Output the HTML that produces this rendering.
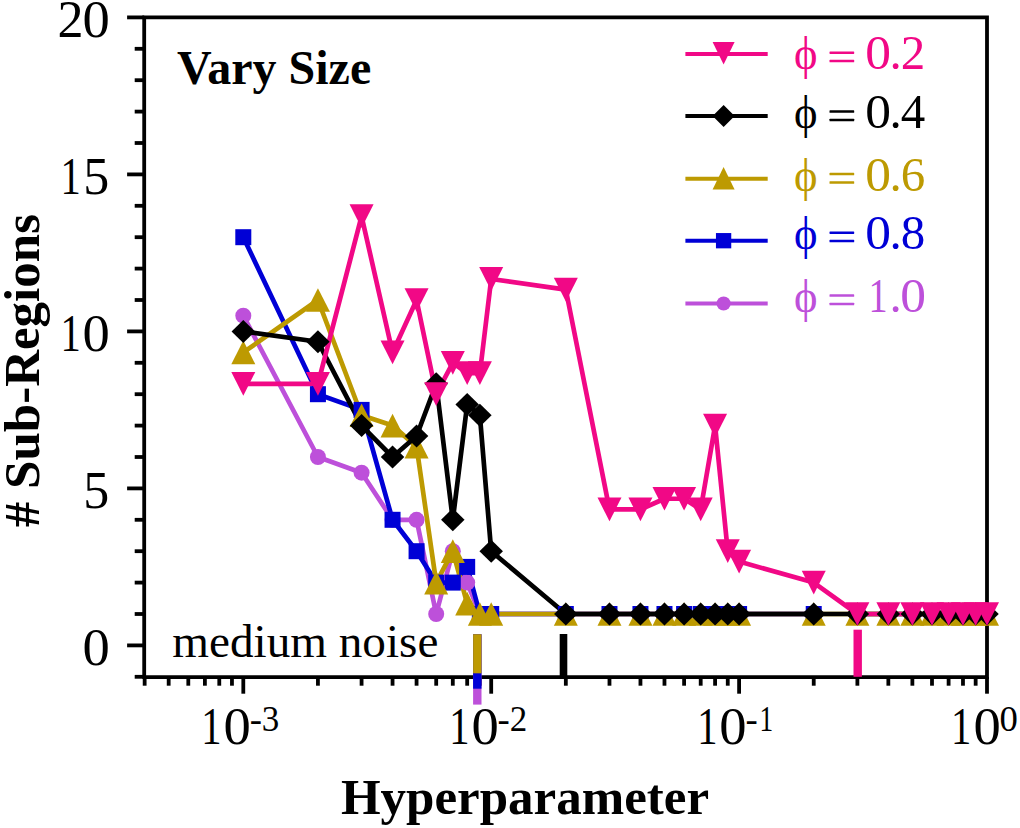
<!DOCTYPE html>
<html><head><meta charset="utf-8"><style>
html,body{margin:0;padding:0;background:#fff;width:1020px;height:828px;overflow:hidden}
svg{display:block}
</style></head><body>
<svg width="1020" height="828" viewBox="0 0 1020 828">
<rect width="1020" height="828" fill="#fff"/>
<path d="M144.20,17.40H987.00V677.10H144.20Z" fill="none" stroke="#000" stroke-width="3.8" stroke-linejoin="miter"/>
<line x1="134.70" y1="676.80" x2="144.20" y2="676.80" stroke="#000" stroke-width="3.8"/>
<line x1="127.10" y1="645.40" x2="144.20" y2="645.40" stroke="#000" stroke-width="3.8"/>
<line x1="134.70" y1="614.00" x2="144.20" y2="614.00" stroke="#000" stroke-width="3.8"/>
<line x1="134.70" y1="582.60" x2="144.20" y2="582.60" stroke="#000" stroke-width="3.8"/>
<line x1="134.70" y1="551.20" x2="144.20" y2="551.20" stroke="#000" stroke-width="3.8"/>
<line x1="134.70" y1="519.80" x2="144.20" y2="519.80" stroke="#000" stroke-width="3.8"/>
<line x1="127.10" y1="488.40" x2="144.20" y2="488.40" stroke="#000" stroke-width="3.8"/>
<line x1="134.70" y1="457.00" x2="144.20" y2="457.00" stroke="#000" stroke-width="3.8"/>
<line x1="134.70" y1="425.60" x2="144.20" y2="425.60" stroke="#000" stroke-width="3.8"/>
<line x1="134.70" y1="394.20" x2="144.20" y2="394.20" stroke="#000" stroke-width="3.8"/>
<line x1="134.70" y1="362.80" x2="144.20" y2="362.80" stroke="#000" stroke-width="3.8"/>
<line x1="127.10" y1="331.40" x2="144.20" y2="331.40" stroke="#000" stroke-width="3.8"/>
<line x1="134.70" y1="300.00" x2="144.20" y2="300.00" stroke="#000" stroke-width="3.8"/>
<line x1="134.70" y1="268.60" x2="144.20" y2="268.60" stroke="#000" stroke-width="3.8"/>
<line x1="134.70" y1="237.20" x2="144.20" y2="237.20" stroke="#000" stroke-width="3.8"/>
<line x1="134.70" y1="205.80" x2="144.20" y2="205.80" stroke="#000" stroke-width="3.8"/>
<line x1="127.10" y1="174.40" x2="144.20" y2="174.40" stroke="#000" stroke-width="3.8"/>
<line x1="134.70" y1="143.00" x2="144.20" y2="143.00" stroke="#000" stroke-width="3.8"/>
<line x1="134.70" y1="111.60" x2="144.20" y2="111.60" stroke="#000" stroke-width="3.8"/>
<line x1="134.70" y1="80.20" x2="144.20" y2="80.20" stroke="#000" stroke-width="3.8"/>
<line x1="134.70" y1="48.80" x2="144.20" y2="48.80" stroke="#000" stroke-width="3.8"/>
<line x1="127.10" y1="17.40" x2="144.20" y2="17.40" stroke="#000" stroke-width="3.8"/>
<line x1="144.65" y1="677.10" x2="144.65" y2="685.70" stroke="#000" stroke-width="3.8"/>
<line x1="168.67" y1="677.10" x2="168.67" y2="685.70" stroke="#000" stroke-width="3.8"/>
<line x1="188.30" y1="677.10" x2="188.30" y2="685.70" stroke="#000" stroke-width="3.8"/>
<line x1="204.90" y1="677.10" x2="204.90" y2="685.70" stroke="#000" stroke-width="3.8"/>
<line x1="219.28" y1="677.10" x2="219.28" y2="685.70" stroke="#000" stroke-width="3.8"/>
<line x1="231.96" y1="677.10" x2="231.96" y2="685.70" stroke="#000" stroke-width="3.8"/>
<line x1="243.30" y1="677.10" x2="243.30" y2="693.70" stroke="#000" stroke-width="3.8"/>
<line x1="317.93" y1="677.10" x2="317.93" y2="685.70" stroke="#000" stroke-width="3.8"/>
<line x1="361.58" y1="677.10" x2="361.58" y2="685.70" stroke="#000" stroke-width="3.8"/>
<line x1="392.55" y1="677.10" x2="392.55" y2="685.70" stroke="#000" stroke-width="3.8"/>
<line x1="416.57" y1="677.10" x2="416.57" y2="685.70" stroke="#000" stroke-width="3.8"/>
<line x1="436.20" y1="677.10" x2="436.20" y2="685.70" stroke="#000" stroke-width="3.8"/>
<line x1="452.80" y1="677.10" x2="452.80" y2="685.70" stroke="#000" stroke-width="3.8"/>
<line x1="467.18" y1="677.10" x2="467.18" y2="685.70" stroke="#000" stroke-width="3.8"/>
<line x1="479.86" y1="677.10" x2="479.86" y2="685.70" stroke="#000" stroke-width="3.8"/>
<line x1="491.20" y1="677.10" x2="491.20" y2="693.70" stroke="#000" stroke-width="3.8"/>
<line x1="565.83" y1="677.10" x2="565.83" y2="685.70" stroke="#000" stroke-width="3.8"/>
<line x1="609.48" y1="677.10" x2="609.48" y2="685.70" stroke="#000" stroke-width="3.8"/>
<line x1="640.45" y1="677.10" x2="640.45" y2="685.70" stroke="#000" stroke-width="3.8"/>
<line x1="664.47" y1="677.10" x2="664.47" y2="685.70" stroke="#000" stroke-width="3.8"/>
<line x1="684.10" y1="677.10" x2="684.10" y2="685.70" stroke="#000" stroke-width="3.8"/>
<line x1="700.70" y1="677.10" x2="700.70" y2="685.70" stroke="#000" stroke-width="3.8"/>
<line x1="715.08" y1="677.10" x2="715.08" y2="685.70" stroke="#000" stroke-width="3.8"/>
<line x1="727.76" y1="677.10" x2="727.76" y2="685.70" stroke="#000" stroke-width="3.8"/>
<line x1="739.10" y1="677.10" x2="739.10" y2="693.70" stroke="#000" stroke-width="3.8"/>
<line x1="813.73" y1="677.10" x2="813.73" y2="685.70" stroke="#000" stroke-width="3.8"/>
<line x1="857.38" y1="677.10" x2="857.38" y2="685.70" stroke="#000" stroke-width="3.8"/>
<line x1="888.35" y1="677.10" x2="888.35" y2="685.70" stroke="#000" stroke-width="3.8"/>
<line x1="912.37" y1="677.10" x2="912.37" y2="685.70" stroke="#000" stroke-width="3.8"/>
<line x1="932.00" y1="677.10" x2="932.00" y2="685.70" stroke="#000" stroke-width="3.8"/>
<line x1="948.60" y1="677.10" x2="948.60" y2="685.70" stroke="#000" stroke-width="3.8"/>
<line x1="962.98" y1="677.10" x2="962.98" y2="685.70" stroke="#000" stroke-width="3.8"/>
<line x1="975.66" y1="677.10" x2="975.66" y2="685.70" stroke="#000" stroke-width="3.8"/>
<line x1="987.00" y1="677.10" x2="987.00" y2="693.70" stroke="#000" stroke-width="3.8"/>
<rect x="473.10" y="634.20" width="8.40" height="70.40" fill="#BD50DA"/>
<rect x="473.10" y="634.20" width="8.40" height="54.50" fill="#0000D6"/>
<rect x="473.10" y="634.20" width="8.40" height="39.10" fill="#BD9A01"/>
<rect x="559.70" y="634.00" width="7.60" height="43.00" fill="#000000"/>
<rect x="853.50" y="629.70" width="8.40" height="47.10" fill="#F10886"/>
<polyline points="243.30,315.70 317.93,457.00 361.58,472.70 392.55,519.80 416.57,519.80 436.20,614.00 452.80,551.20 467.18,582.60 479.86,614.00 491.20,614.00 565.83,614.00 609.48,614.00 640.45,614.00 664.47,614.00 684.10,614.00 700.70,614.00 715.08,614.00 727.76,614.00 739.10,614.00 813.73,614.00" fill="none" stroke="#BD50DA" stroke-width="4.7" stroke-linejoin="round"/>
<polyline points="243.30,237.20 317.93,394.20 361.58,409.90 392.55,519.80 416.57,551.20 436.20,582.60 452.80,582.60 467.18,566.90 479.86,614.00 491.20,614.00 565.83,614.00 609.48,614.00 640.45,614.00 664.47,614.00 684.10,614.00 700.70,614.00 715.08,614.00 727.76,614.00 739.10,614.00 813.73,614.00" fill="none" stroke="#0000D6" stroke-width="4.7" stroke-linejoin="round"/>
<polyline points="243.30,352.44 317.93,300.00 361.58,415.24 392.55,425.60 416.57,446.64 436.20,582.60 452.80,551.20 467.18,603.64 479.86,614.00 491.20,614.00 565.83,614.00 609.48,614.00 640.45,614.00 664.47,614.00 684.10,614.00 700.70,614.00 715.08,614.00 727.76,614.00 739.10,614.00 813.73,614.00 857.38,614.00 888.35,614.00 912.37,614.00 932.00,614.00 948.60,614.00 962.98,614.00 975.66,614.00 987.00,614.00" fill="none" stroke="#BD9A01" stroke-width="4.7" stroke-linejoin="round"/>
<polyline points="243.30,331.40 317.93,341.76 361.58,425.60 392.55,457.00 416.57,435.96 436.20,383.84 452.80,519.80 467.18,404.56 479.86,415.24 491.20,551.20 565.83,614.00 609.48,614.00 640.45,614.00 664.47,614.00 684.10,614.00 700.70,614.00 715.08,614.00 727.76,614.00 739.10,614.00 813.73,614.00 857.38,614.00 888.35,614.00 912.37,614.00 932.00,614.00 948.60,614.00 962.98,614.00 975.66,614.00 987.00,614.00" fill="none" stroke="#000000" stroke-width="4.7" stroke-linejoin="round"/>
<polyline points="243.30,383.84 317.93,383.84 361.58,216.16 392.55,352.44 416.57,300.00 436.20,394.20 452.80,362.80 467.18,373.16 479.86,373.16 491.20,278.96 565.83,289.64 609.48,509.44 640.45,509.44 664.47,498.76 684.10,498.76 700.70,509.44 715.08,425.60 727.76,551.20 739.10,561.56 813.73,582.60 857.38,614.00 888.35,614.00 912.37,614.00 932.00,614.00 948.60,614.00 962.98,614.00 975.66,614.00 987.00,614.00" fill="none" stroke="#F10886" stroke-width="4.7" stroke-linejoin="round"/>
<circle cx="243.30" cy="315.70" r="8.00" fill="#BD50DA"/>
<circle cx="317.93" cy="457.00" r="8.00" fill="#BD50DA"/>
<circle cx="361.58" cy="472.70" r="8.00" fill="#BD50DA"/>
<circle cx="392.55" cy="519.80" r="8.00" fill="#BD50DA"/>
<circle cx="416.57" cy="519.80" r="8.00" fill="#BD50DA"/>
<circle cx="436.20" cy="614.00" r="8.00" fill="#BD50DA"/>
<circle cx="452.80" cy="551.20" r="8.00" fill="#BD50DA"/>
<circle cx="467.18" cy="582.60" r="8.00" fill="#BD50DA"/>
<circle cx="479.86" cy="614.00" r="8.00" fill="#BD50DA"/>
<circle cx="491.20" cy="614.00" r="8.00" fill="#BD50DA"/>
<circle cx="565.83" cy="614.00" r="8.00" fill="#BD50DA"/>
<circle cx="609.48" cy="614.00" r="8.00" fill="#BD50DA"/>
<circle cx="640.45" cy="614.00" r="8.00" fill="#BD50DA"/>
<circle cx="664.47" cy="614.00" r="8.00" fill="#BD50DA"/>
<circle cx="684.10" cy="614.00" r="8.00" fill="#BD50DA"/>
<circle cx="700.70" cy="614.00" r="8.00" fill="#BD50DA"/>
<circle cx="715.08" cy="614.00" r="8.00" fill="#BD50DA"/>
<circle cx="727.76" cy="614.00" r="8.00" fill="#BD50DA"/>
<circle cx="739.10" cy="614.00" r="8.00" fill="#BD50DA"/>
<circle cx="813.73" cy="614.00" r="8.00" fill="#BD50DA"/>
<rect x="235.30" y="229.20" width="16.00" height="16.00" fill="#0000D6"/>
<rect x="309.93" y="386.20" width="16.00" height="16.00" fill="#0000D6"/>
<rect x="353.58" y="401.90" width="16.00" height="16.00" fill="#0000D6"/>
<rect x="384.55" y="511.80" width="16.00" height="16.00" fill="#0000D6"/>
<rect x="408.57" y="543.20" width="16.00" height="16.00" fill="#0000D6"/>
<rect x="428.20" y="574.60" width="16.00" height="16.00" fill="#0000D6"/>
<rect x="444.80" y="574.60" width="16.00" height="16.00" fill="#0000D6"/>
<rect x="459.18" y="558.90" width="16.00" height="16.00" fill="#0000D6"/>
<rect x="471.86" y="606.00" width="16.00" height="16.00" fill="#0000D6"/>
<rect x="483.20" y="606.00" width="16.00" height="16.00" fill="#0000D6"/>
<rect x="557.83" y="606.00" width="16.00" height="16.00" fill="#0000D6"/>
<rect x="601.48" y="606.00" width="16.00" height="16.00" fill="#0000D6"/>
<rect x="632.45" y="606.00" width="16.00" height="16.00" fill="#0000D6"/>
<rect x="656.47" y="606.00" width="16.00" height="16.00" fill="#0000D6"/>
<rect x="676.10" y="606.00" width="16.00" height="16.00" fill="#0000D6"/>
<rect x="692.70" y="606.00" width="16.00" height="16.00" fill="#0000D6"/>
<rect x="707.08" y="606.00" width="16.00" height="16.00" fill="#0000D6"/>
<rect x="719.76" y="606.00" width="16.00" height="16.00" fill="#0000D6"/>
<rect x="731.10" y="606.00" width="16.00" height="16.00" fill="#0000D6"/>
<rect x="805.73" y="606.00" width="16.00" height="16.00" fill="#0000D6"/>
<path d="M231.30,364.29L255.30,364.29L243.30,340.59Z" fill="#BD9A01"/>
<path d="M305.93,311.85L329.93,311.85L317.93,288.15Z" fill="#BD9A01"/>
<path d="M349.58,427.09L373.58,427.09L361.58,403.39Z" fill="#BD9A01"/>
<path d="M380.55,437.45L404.55,437.45L392.55,413.75Z" fill="#BD9A01"/>
<path d="M404.57,458.49L428.57,458.49L416.57,434.79Z" fill="#BD9A01"/>
<path d="M424.20,594.45L448.20,594.45L436.20,570.75Z" fill="#BD9A01"/>
<path d="M440.80,563.05L464.80,563.05L452.80,539.35Z" fill="#BD9A01"/>
<path d="M455.18,615.49L479.18,615.49L467.18,591.79Z" fill="#BD9A01"/>
<path d="M467.86,625.85L491.86,625.85L479.86,602.15Z" fill="#BD9A01"/>
<path d="M479.20,625.85L503.20,625.85L491.20,602.15Z" fill="#BD9A01"/>
<path d="M553.83,625.85L577.83,625.85L565.83,602.15Z" fill="#BD9A01"/>
<path d="M597.48,625.85L621.48,625.85L609.48,602.15Z" fill="#BD9A01"/>
<path d="M628.45,625.85L652.45,625.85L640.45,602.15Z" fill="#BD9A01"/>
<path d="M652.47,625.85L676.47,625.85L664.47,602.15Z" fill="#BD9A01"/>
<path d="M672.10,625.85L696.10,625.85L684.10,602.15Z" fill="#BD9A01"/>
<path d="M688.70,625.85L712.70,625.85L700.70,602.15Z" fill="#BD9A01"/>
<path d="M703.08,625.85L727.08,625.85L715.08,602.15Z" fill="#BD9A01"/>
<path d="M715.76,625.85L739.76,625.85L727.76,602.15Z" fill="#BD9A01"/>
<path d="M727.10,625.85L751.10,625.85L739.10,602.15Z" fill="#BD9A01"/>
<path d="M801.73,625.85L825.73,625.85L813.73,602.15Z" fill="#BD9A01"/>
<path d="M845.38,625.85L869.38,625.85L857.38,602.15Z" fill="#BD9A01"/>
<path d="M876.35,625.85L900.35,625.85L888.35,602.15Z" fill="#BD9A01"/>
<path d="M900.37,625.85L924.37,625.85L912.37,602.15Z" fill="#BD9A01"/>
<path d="M920.00,625.85L944.00,625.85L932.00,602.15Z" fill="#BD9A01"/>
<path d="M936.60,625.85L960.60,625.85L948.60,602.15Z" fill="#BD9A01"/>
<path d="M950.98,625.85L974.98,625.85L962.98,602.15Z" fill="#BD9A01"/>
<path d="M963.66,625.85L987.66,625.85L975.66,602.15Z" fill="#BD9A01"/>
<path d="M975.00,625.85L999.00,625.85L987.00,602.15Z" fill="#BD9A01"/>
<path d="M243.30,319.90L255.05,331.40L243.30,342.90L231.55,331.40Z" fill="#000000"/>
<path d="M317.93,330.26L329.68,341.76L317.93,353.26L306.18,341.76Z" fill="#000000"/>
<path d="M361.58,414.10L373.33,425.60L361.58,437.10L349.83,425.60Z" fill="#000000"/>
<path d="M392.55,445.50L404.30,457.00L392.55,468.50L380.80,457.00Z" fill="#000000"/>
<path d="M416.57,424.46L428.32,435.96L416.57,447.46L404.82,435.96Z" fill="#000000"/>
<path d="M436.20,372.34L447.95,383.84L436.20,395.34L424.45,383.84Z" fill="#000000"/>
<path d="M452.80,508.30L464.55,519.80L452.80,531.30L441.05,519.80Z" fill="#000000"/>
<path d="M467.18,393.06L478.93,404.56L467.18,416.06L455.43,404.56Z" fill="#000000"/>
<path d="M479.86,403.74L491.61,415.24L479.86,426.74L468.11,415.24Z" fill="#000000"/>
<path d="M491.20,539.70L502.95,551.20L491.20,562.70L479.45,551.20Z" fill="#000000"/>
<path d="M565.83,602.50L577.58,614.00L565.83,625.50L554.08,614.00Z" fill="#000000"/>
<path d="M609.48,602.50L621.23,614.00L609.48,625.50L597.73,614.00Z" fill="#000000"/>
<path d="M640.45,602.50L652.20,614.00L640.45,625.50L628.70,614.00Z" fill="#000000"/>
<path d="M664.47,602.50L676.22,614.00L664.47,625.50L652.72,614.00Z" fill="#000000"/>
<path d="M684.10,602.50L695.85,614.00L684.10,625.50L672.35,614.00Z" fill="#000000"/>
<path d="M700.70,602.50L712.45,614.00L700.70,625.50L688.95,614.00Z" fill="#000000"/>
<path d="M715.08,602.50L726.83,614.00L715.08,625.50L703.33,614.00Z" fill="#000000"/>
<path d="M727.76,602.50L739.51,614.00L727.76,625.50L716.01,614.00Z" fill="#000000"/>
<path d="M739.10,602.50L750.85,614.00L739.10,625.50L727.35,614.00Z" fill="#000000"/>
<path d="M813.73,602.50L825.48,614.00L813.73,625.50L801.98,614.00Z" fill="#000000"/>
<path d="M857.38,602.50L869.13,614.00L857.38,625.50L845.63,614.00Z" fill="#000000"/>
<path d="M888.35,602.50L900.10,614.00L888.35,625.50L876.60,614.00Z" fill="#000000"/>
<path d="M912.37,602.50L924.12,614.00L912.37,625.50L900.62,614.00Z" fill="#000000"/>
<path d="M932.00,602.50L943.75,614.00L932.00,625.50L920.25,614.00Z" fill="#000000"/>
<path d="M948.60,602.50L960.35,614.00L948.60,625.50L936.85,614.00Z" fill="#000000"/>
<path d="M962.98,602.50L974.73,614.00L962.98,625.50L951.23,614.00Z" fill="#000000"/>
<path d="M975.66,602.50L987.41,614.00L975.66,625.50L963.91,614.00Z" fill="#000000"/>
<path d="M987.00,602.50L998.75,614.00L987.00,625.50L975.25,614.00Z" fill="#000000"/>
<path d="M231.30,371.99L255.30,371.99L243.30,395.69Z" fill="#F10886"/>
<path d="M305.93,371.99L329.93,371.99L317.93,395.69Z" fill="#F10886"/>
<path d="M349.58,204.31L373.58,204.31L361.58,228.01Z" fill="#F10886"/>
<path d="M380.55,340.59L404.55,340.59L392.55,364.29Z" fill="#F10886"/>
<path d="M404.57,288.15L428.57,288.15L416.57,311.85Z" fill="#F10886"/>
<path d="M424.20,382.35L448.20,382.35L436.20,406.05Z" fill="#F10886"/>
<path d="M440.80,350.95L464.80,350.95L452.80,374.65Z" fill="#F10886"/>
<path d="M455.18,361.31L479.18,361.31L467.18,385.01Z" fill="#F10886"/>
<path d="M467.86,361.31L491.86,361.31L479.86,385.01Z" fill="#F10886"/>
<path d="M479.20,267.11L503.20,267.11L491.20,290.81Z" fill="#F10886"/>
<path d="M553.83,277.79L577.83,277.79L565.83,301.49Z" fill="#F10886"/>
<path d="M597.48,497.59L621.48,497.59L609.48,521.29Z" fill="#F10886"/>
<path d="M628.45,497.59L652.45,497.59L640.45,521.29Z" fill="#F10886"/>
<path d="M652.47,486.91L676.47,486.91L664.47,510.61Z" fill="#F10886"/>
<path d="M672.10,486.91L696.10,486.91L684.10,510.61Z" fill="#F10886"/>
<path d="M688.70,497.59L712.70,497.59L700.70,521.29Z" fill="#F10886"/>
<path d="M703.08,413.75L727.08,413.75L715.08,437.45Z" fill="#F10886"/>
<path d="M715.76,539.35L739.76,539.35L727.76,563.05Z" fill="#F10886"/>
<path d="M727.10,549.71L751.10,549.71L739.10,573.41Z" fill="#F10886"/>
<path d="M801.73,570.75L825.73,570.75L813.73,594.45Z" fill="#F10886"/>
<path d="M845.38,602.15L869.38,602.15L857.38,625.85Z" fill="#F10886"/>
<path d="M876.35,602.15L900.35,602.15L888.35,625.85Z" fill="#F10886"/>
<path d="M900.37,602.15L924.37,602.15L912.37,625.85Z" fill="#F10886"/>
<path d="M920.00,602.15L944.00,602.15L932.00,625.85Z" fill="#F10886"/>
<path d="M936.60,602.15L960.60,602.15L948.60,625.85Z" fill="#F10886"/>
<path d="M950.98,602.15L974.98,602.15L962.98,625.85Z" fill="#F10886"/>
<path d="M963.66,602.15L987.66,602.15L975.66,625.85Z" fill="#F10886"/>
<path d="M975.00,602.15L999.00,602.15L987.00,625.85Z" fill="#F10886"/>
<line x1="685.4" y1="53.90" x2="767.7" y2="53.90" stroke="#F10886" stroke-width="4"/>
<path d="M712.60,42.00L734.60,42.00L723.60,64.60Z" fill="#F10886"/>
<text x="0" y="0" text-anchor="middle" fill="#F10886" transform="translate(805.8,69.30) scale(0.91,0.965)" style="font-family:'Liberation Serif',serif;font-size:49px">&#x3D5;</text>
<rect x="829.5" y="51.40" width="24.7" height="2.5" rx="0.6" fill="#F10886"/>
<rect x="829.5" y="59.85" width="24.7" height="2.5" rx="0.6" fill="#F10886"/>
<text x="0" y="0" text-anchor="middle" fill="#F10886" transform="translate(878.10,69.10) scale(1.050,1.000)" style="font-family:'Liberation Serif',serif;font-size:49.0px">0</text>
<text x="895.70" y="69.10" text-anchor="middle" fill="#F10886" style="font-family:'Liberation Serif',serif;font-size:49.0px">.</text>
<text x="913.00" y="69.10" text-anchor="middle" fill="#F10886" style="font-family:'Liberation Serif',serif;font-size:49.0px">2</text>
<line x1="685.4" y1="116.10" x2="767.7" y2="116.10" stroke="#000000" stroke-width="4"/>
<path d="M723.60,105.10L734.60,116.10L723.60,127.10L712.60,116.10Z" fill="#000000"/>
<text x="0" y="0" text-anchor="middle" fill="#000000" transform="translate(805.8,128.20) scale(0.91,0.965)" style="font-family:'Liberation Serif',serif;font-size:49px">&#x3D5;</text>
<rect x="829.5" y="110.30" width="24.7" height="2.5" rx="0.6" fill="#000000"/>
<rect x="829.5" y="118.75" width="24.7" height="2.5" rx="0.6" fill="#000000"/>
<text x="0" y="0" text-anchor="middle" fill="#000000" transform="translate(878.10,128.00) scale(1.050,1.000)" style="font-family:'Liberation Serif',serif;font-size:49.0px">0</text>
<text x="895.70" y="128.00" text-anchor="middle" fill="#000000" style="font-family:'Liberation Serif',serif;font-size:49.0px">.</text>
<text x="913.00" y="128.00" text-anchor="middle" fill="#000000" style="font-family:'Liberation Serif',serif;font-size:49.0px">4</text>
<line x1="685.4" y1="178.80" x2="767.7" y2="178.80" stroke="#BD9A01" stroke-width="4"/>
<path d="M712.60,189.60L734.60,189.60L723.60,167.00Z" fill="#BD9A01"/>
<text x="0" y="0" text-anchor="middle" fill="#BD9A01" transform="translate(805.8,190.70) scale(0.91,0.965)" style="font-family:'Liberation Serif',serif;font-size:49px">&#x3D5;</text>
<rect x="829.5" y="172.80" width="24.7" height="2.5" rx="0.6" fill="#BD9A01"/>
<rect x="829.5" y="181.25" width="24.7" height="2.5" rx="0.6" fill="#BD9A01"/>
<text x="0" y="0" text-anchor="middle" fill="#BD9A01" transform="translate(878.10,190.50) scale(1.050,1.000)" style="font-family:'Liberation Serif',serif;font-size:49.0px">0</text>
<text x="895.70" y="190.50" text-anchor="middle" fill="#BD9A01" style="font-family:'Liberation Serif',serif;font-size:49.0px">.</text>
<text x="913.00" y="190.50" text-anchor="middle" fill="#BD9A01" style="font-family:'Liberation Serif',serif;font-size:49.0px">6</text>
<line x1="685.4" y1="240.70" x2="767.7" y2="240.70" stroke="#0000D6" stroke-width="4"/>
<rect x="715.95" y="233.05" width="15.30" height="15.30" fill="#0000D6"/>
<text x="0" y="0" text-anchor="middle" fill="#0000D6" transform="translate(805.8,249.30) scale(0.91,0.965)" style="font-family:'Liberation Serif',serif;font-size:49px">&#x3D5;</text>
<rect x="829.5" y="231.40" width="24.7" height="2.5" rx="0.6" fill="#0000D6"/>
<rect x="829.5" y="239.85" width="24.7" height="2.5" rx="0.6" fill="#0000D6"/>
<text x="0" y="0" text-anchor="middle" fill="#0000D6" transform="translate(878.10,249.10) scale(1.050,1.000)" style="font-family:'Liberation Serif',serif;font-size:49.0px">0</text>
<text x="895.70" y="249.10" text-anchor="middle" fill="#0000D6" style="font-family:'Liberation Serif',serif;font-size:49.0px">.</text>
<text x="913.00" y="249.10" text-anchor="middle" fill="#0000D6" style="font-family:'Liberation Serif',serif;font-size:49.0px">8</text>
<line x1="685.4" y1="303.50" x2="767.7" y2="303.50" stroke="#BD50DA" stroke-width="4"/>
<circle cx="723.60" cy="303.50" r="7.10" fill="#BD50DA"/>
<text x="0" y="0" text-anchor="middle" fill="#BD50DA" transform="translate(805.8,312.20) scale(0.91,0.965)" style="font-family:'Liberation Serif',serif;font-size:49px">&#x3D5;</text>
<rect x="829.5" y="294.30" width="24.7" height="2.5" rx="0.6" fill="#BD50DA"/>
<rect x="829.5" y="302.75" width="24.7" height="2.5" rx="0.6" fill="#BD50DA"/>
<text x="0" y="0" text-anchor="middle" fill="#BD50DA" transform="translate(878.10,312.00) scale(0.780,1.000)" style="font-family:'Liberation Serif',serif;font-size:49.0px">1</text>
<text x="895.70" y="312.00" text-anchor="middle" fill="#BD50DA" style="font-family:'Liberation Serif',serif;font-size:49.0px">.</text>
<text x="0" y="0" text-anchor="middle" fill="#BD50DA" transform="translate(913.00,312.00) scale(1.050,1.000)" style="font-family:'Liberation Serif',serif;font-size:49.0px">0</text>
<text x="0" y="0" text-anchor="middle" fill="#000" transform="translate(96.20,665.00) scale(1.050,1.000)" style="font-family:'Liberation Serif',serif;font-size:52.0px">0</text>
<text x="96.20" y="508.00" text-anchor="middle" fill="#000" style="font-family:'Liberation Serif',serif;font-size:52.0px">5</text>
<text x="0" y="0" text-anchor="middle" fill="#000" transform="translate(70.60,351.00) scale(0.780,1.000)" style="font-family:'Liberation Serif',serif;font-size:52.0px">1</text>
<text x="0" y="0" text-anchor="middle" fill="#000" transform="translate(96.20,351.00) scale(1.050,1.000)" style="font-family:'Liberation Serif',serif;font-size:52.0px">0</text>
<text x="0" y="0" text-anchor="middle" fill="#000" transform="translate(70.60,194.00) scale(0.780,1.000)" style="font-family:'Liberation Serif',serif;font-size:52.0px">1</text>
<text x="96.20" y="194.00" text-anchor="middle" fill="#000" style="font-family:'Liberation Serif',serif;font-size:52.0px">5</text>
<text x="70.60" y="37.00" text-anchor="middle" fill="#000" style="font-family:'Liberation Serif',serif;font-size:52.0px">2</text>
<text x="0" y="0" text-anchor="middle" fill="#000" transform="translate(96.20,37.00) scale(1.050,1.000)" style="font-family:'Liberation Serif',serif;font-size:52.0px">0</text>
<text x="0" y="0" text-anchor="middle" fill="#000" transform="translate(211.50,744.00) scale(0.780,1.000)" style="font-family:'Liberation Serif',serif;font-size:52.0px">1</text>
<text x="0" y="0" text-anchor="middle" fill="#000" transform="translate(237.20,744.00) scale(1.050,1.000)" style="font-family:'Liberation Serif',serif;font-size:52.0px">0</text>
<text x="0" y="0" text-anchor="middle" fill="#000" transform="translate(255.80,731.00) scale(1.050,1.000)" style="font-family:'Liberation Serif',serif;font-size:35.0px">-</text>
<text x="270.50" y="731.00" text-anchor="middle" fill="#000" style="font-family:'Liberation Serif',serif;font-size:35.0px">3</text>
<text x="0" y="0" text-anchor="middle" fill="#000" transform="translate(459.40,744.00) scale(0.780,1.000)" style="font-family:'Liberation Serif',serif;font-size:52.0px">1</text>
<text x="0" y="0" text-anchor="middle" fill="#000" transform="translate(485.10,744.00) scale(1.050,1.000)" style="font-family:'Liberation Serif',serif;font-size:52.0px">0</text>
<text x="0" y="0" text-anchor="middle" fill="#000" transform="translate(503.70,731.00) scale(1.050,1.000)" style="font-family:'Liberation Serif',serif;font-size:35.0px">-</text>
<text x="518.40" y="731.00" text-anchor="middle" fill="#000" style="font-family:'Liberation Serif',serif;font-size:35.0px">2</text>
<text x="0" y="0" text-anchor="middle" fill="#000" transform="translate(707.30,744.00) scale(0.780,1.000)" style="font-family:'Liberation Serif',serif;font-size:52.0px">1</text>
<text x="0" y="0" text-anchor="middle" fill="#000" transform="translate(733.00,744.00) scale(1.050,1.000)" style="font-family:'Liberation Serif',serif;font-size:52.0px">0</text>
<text x="0" y="0" text-anchor="middle" fill="#000" transform="translate(751.60,731.00) scale(1.050,1.000)" style="font-family:'Liberation Serif',serif;font-size:35.0px">-</text>
<text x="0" y="0" text-anchor="middle" fill="#000" transform="translate(766.30,731.00) scale(0.780,1.000)" style="font-family:'Liberation Serif',serif;font-size:35.0px">1</text>
<text x="0" y="0" text-anchor="middle" fill="#000" transform="translate(961.20,744.00) scale(0.780,1.000)" style="font-family:'Liberation Serif',serif;font-size:52.0px">1</text>
<text x="0" y="0" text-anchor="middle" fill="#000" transform="translate(987.20,744.00) scale(1.050,1.000)" style="font-family:'Liberation Serif',serif;font-size:52.0px">0</text>
<text x="0" y="0" text-anchor="middle" fill="#000" transform="translate(1008.60,731.00) scale(1.050,1.000)" style="font-family:'Liberation Serif',serif;font-size:35.0px">0</text>
<text x="525.00" y="814.00" text-anchor="middle" fill="#000" style="font-family:'Liberation Serif',serif;font-size:51.0px;font-weight:bold">Hyperparameter</text>
<text transform="translate(39,370.6) rotate(-90)" text-anchor="middle" style="font-family:'Liberation Serif',serif;font-size:51px;font-weight:bold"># Sub-Regions</text>
<text x="177.00" y="84.30" text-anchor="start" fill="#000" style="font-family:'Liberation Serif',serif;font-size:48.0px;font-weight:bold">Vary Size</text>
<text x="172.30" y="657.30" text-anchor="start" fill="#000" style="font-family:'Liberation Serif',serif;font-size:47.2px">medium noise</text>
</svg>
</body></html>
